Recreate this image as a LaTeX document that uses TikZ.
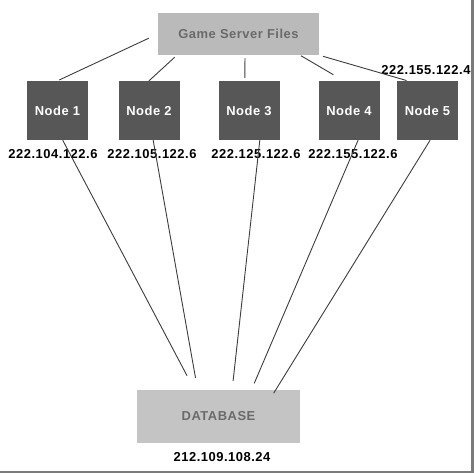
\documentclass[tikz,border=0pt]{standalone}
\usepackage{fontspec}
\setmainfont{Liberation Sans}[LetterSpace=4]
\definecolor{servergray}{HTML}{BABABA}
\definecolor{basegray}{HTML}{C4C4C4}
\definecolor{nodegray}{HTML}{575757}
\definecolor{softtext}{HTML}{6A6A6A}
\definecolor{wiregray}{HTML}{3C3C3C}
\definecolor{framegray}{HTML}{7B7B7B}
\begin{document}
\begin{tikzpicture}[x = 1bp, y = -1bp, font = \bfseries\fontsize{13}{15}\selectfont,
	box/.style = {shape = rectangle, inner sep = 0pt},
	wire/.style = {draw = wiregray, line width = 0.9bp}]
	\useasboundingbox (0, 0) rectangle (474, 473);
	\fill[framegray] (471, 0) rectangle (474, 473);
	\fill[framegray] (0, 470.5) rectangle (474, 473);
	\node[box, fill = servergray, text = softtext, minimum width = 161bp, minimum height = 42bp] (gsf) at (238.5, 34) {Game Server Files};
	\node[box, fill = basegray, text = softtext, minimum width = 163bp, minimum height = 53bp] (db) at (218.5, 416.5) {DATABASE};
	\node (dbip) at (222, 457) {212.109.108.24};
	\foreach \n/\xpos in {1/57.5, 2/149, 3/249, 4/349, 5/427.5}{
		\node[box, fill = nodegray, text = white, minimum width = 61bp, minimum height = 59bp] (n\n) at (\xpos, 110.5) {Node \n};}
	\foreach \n/\xpos/\ypos/\ip in {1/53/154/222.104.122.6, 2/152/154/222.105.122.6, 3/256/154/222.125.122.6, 4/353/154/222.155.122.6, 5/426/70/222.155.122.4}{
		\node (ip\n) at (\xpos, \ypos) {\ip};}
	\draw[wire, shorten <= 10bp, shorten >= 2bp] (gsf.west) -- (n1.north);
	\draw[wire, shorten <= 3bp] (gsf.199) -- (n2.north);
	\draw[wire, shorten <= 3bp, shorten >= 3bp] (gsf.287) -- (n3.98);
	\draw[wire, shorten <= 1bp, shorten >= 12bp] (gsf.341) -- (n4.100);
	\draw[wire, shorten <= 4bp, shorten >= 1bp] (gsf.south east) -- (n5.124);
	\foreach \n/\from/\to/\gap in {1/280/132/16, 2/278/128/12, 3/290/63/9, 4/287/39/7, 5/275/25/-4}{
		\draw[wire, shorten >= \gap bp] (n\n.\from) -- (db.\to);}
\end{tikzpicture}
\end{document}
